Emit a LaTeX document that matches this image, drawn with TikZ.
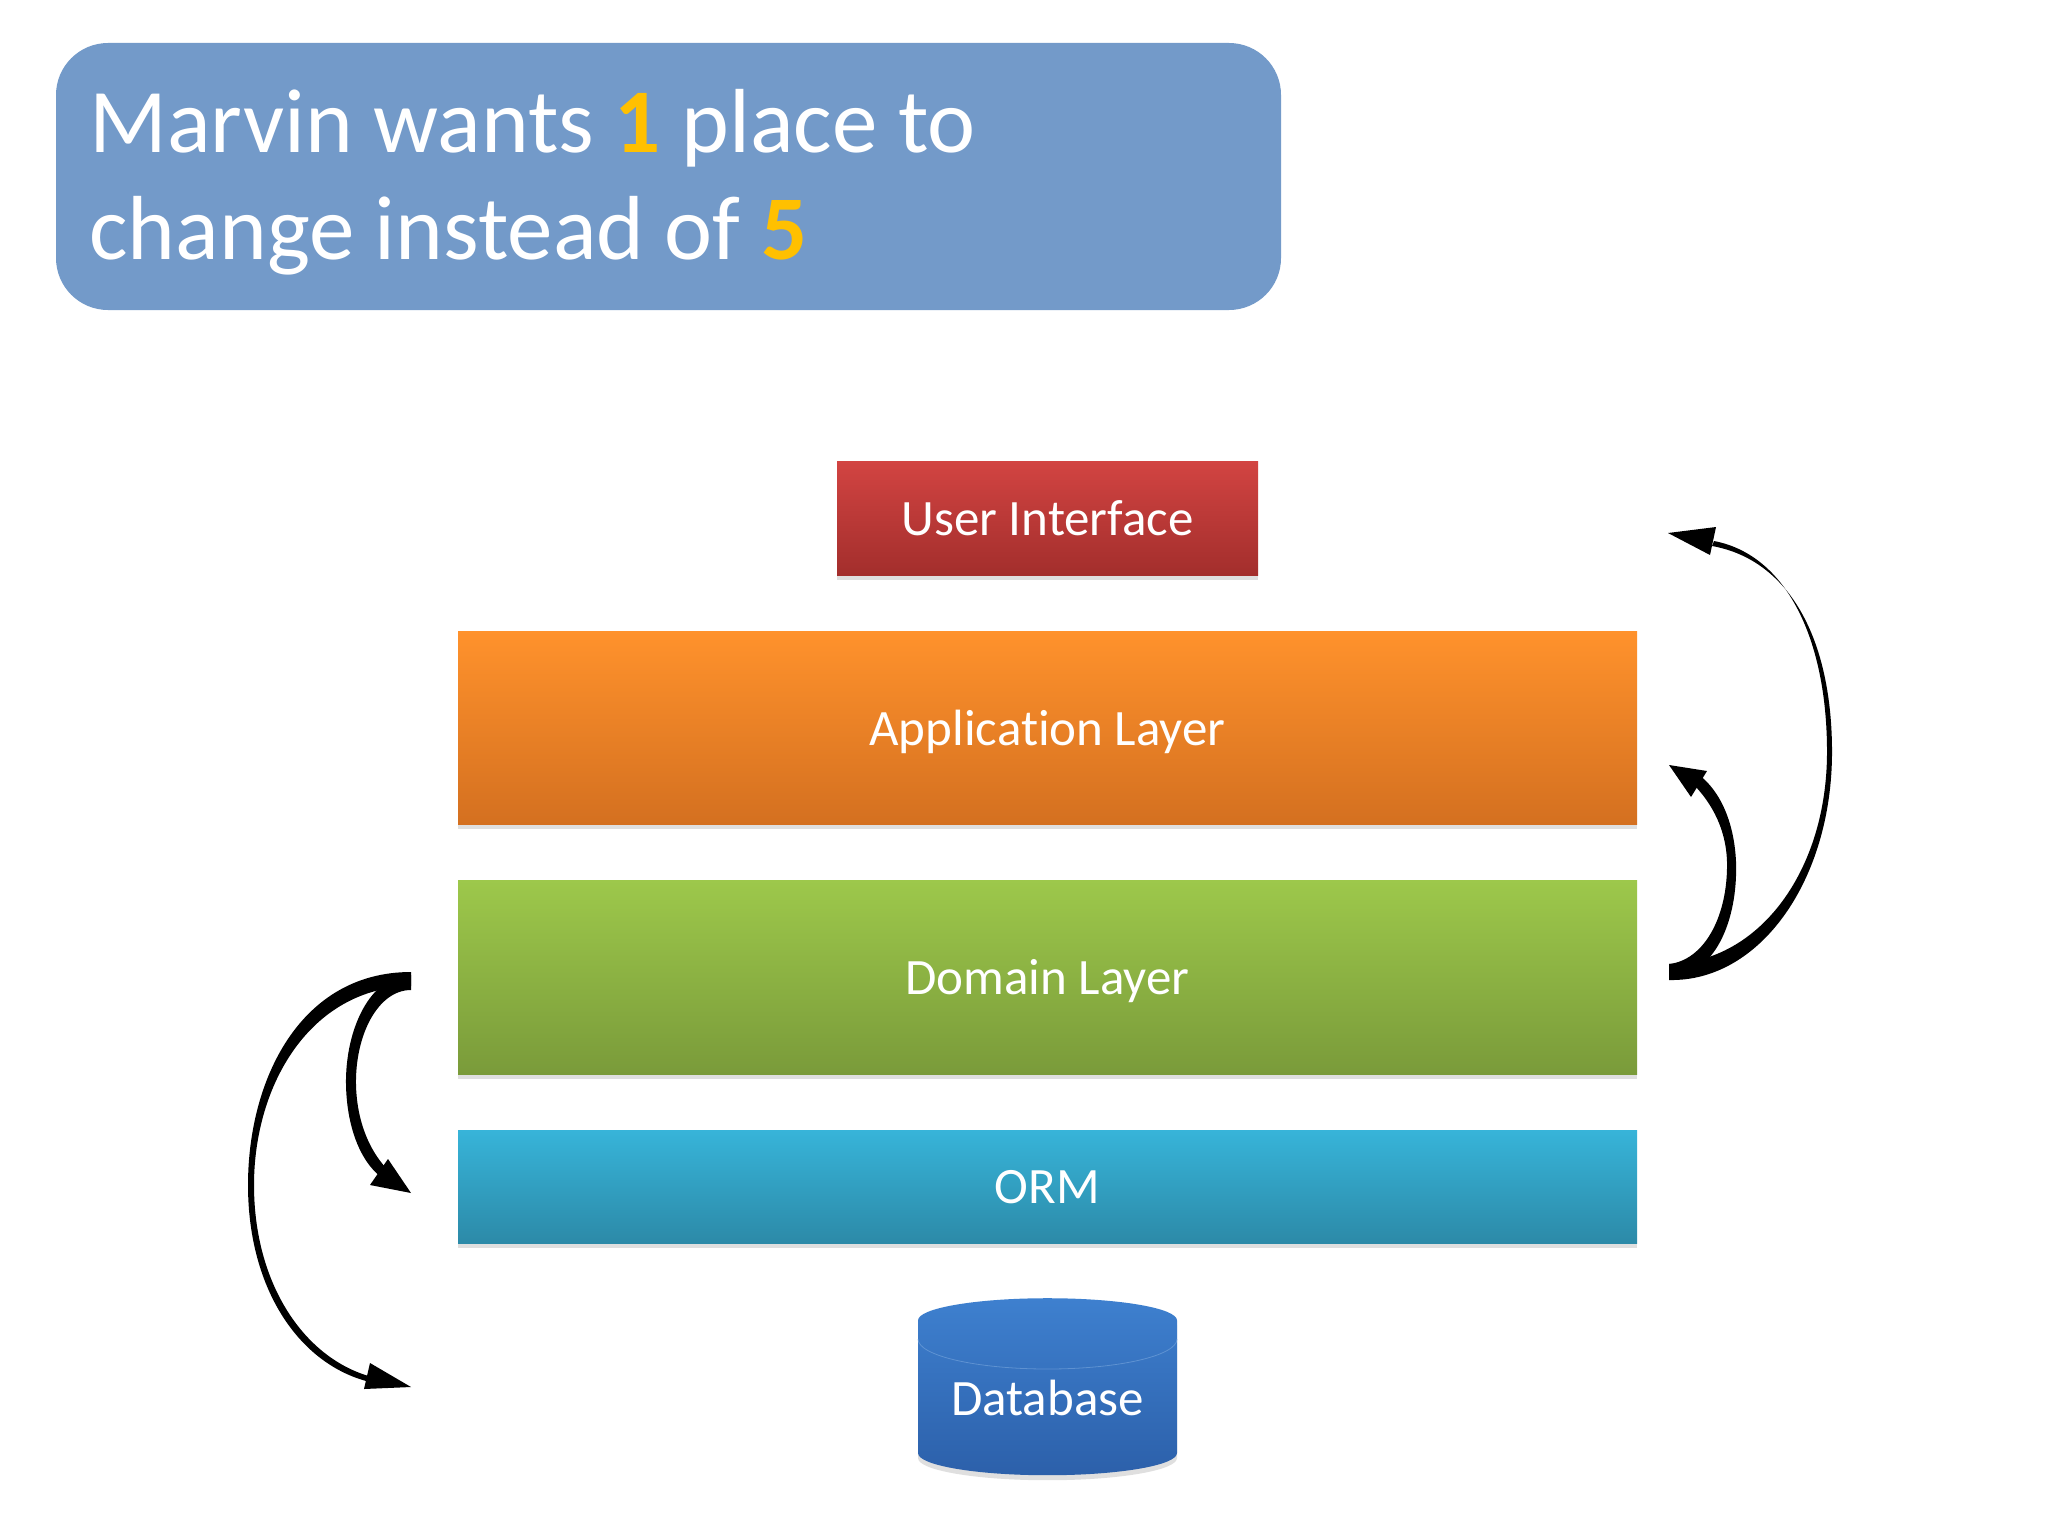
\documentclass[tikz,border=0pt]{standalone}
\usepackage{fontspec}
\setmainfont{Carlito}[Ligatures={NoCommon}]
\usetikzlibrary{shapes.geometric, shadows}

\definecolor{titleblue}{RGB}{115,154,201}
\definecolor{gold}{RGB}{255,192,0}
\definecolor{uitop}{RGB}{210,68,66}
\definecolor{uibot}{RGB}{163,46,44}
\definecolor{apptop}{RGB}{255,146,44}
\definecolor{appbot}{RGB}{212,112,32}
\definecolor{domtop}{RGB}{157,200,75}
\definecolor{dombot}{RGB}{122,155,58}
\definecolor{ormtop}{RGB}{55,180,217}
\definecolor{ormbot}{RGB}{44,138,168}
\definecolor{dbtop}{RGB}{62,128,207}
\definecolor{dbbot}{RGB}{44,96,170}

\begin{document}
\begin{tikzpicture}[x=0.5pt, y=-0.5pt,
	layer/.style={minimum width=589.5pt, inner sep=0pt, text depth=0pt, text=white, font=\fontsize{25.5}{30}\selectfont,
		drop shadow={shadow xshift=0pt, shadow yshift=-2.5pt, opacity=0.25}},
	tip/.style={fill=black}]
	\fill[white] (0, 0) rectangle (2048, 1536);
	
	% title
	\fill[titleblue] (56, 43) [rounded corners=26pt] rectangle (1281, 310);
	\node[anchor=north west, inner sep=0pt, align=left, text=white, font=\fontsize{45.5}{53.5}\selectfont] (title) at (89, 89)
		{Marvin wants \textbf{\textcolor{gold}{1}} place to\\change instead of \textbf{\textcolor{gold}{5}}};
	
	% layers
	\node[layer, minimum width=210.5pt, minimum height=57pt, top color=uitop, bottom color=uibot] (ui) at (1047.5, 518) {User Interface};
	\node[layer, minimum height=96.5pt, top color=apptop, bottom color=appbot] (app) at (1047.5, 727.5) {Application Layer};
	\node[layer, minimum height=97pt, top color=domtop, bottom color=dombot] (dom) at (1047.5, 977) {Domain Layer};
	\node[layer, minimum height=56.5pt, top color=ormtop, bottom color=ormbot] (orm) at (1047.5, 1186.5) {ORM};
	\node[layer, cylinder, shape border rotate=90, aspect=0.23, minimum width=129.5pt, minimum height=88.5pt,
		top color=dbtop, bottom color=dbbot] (db) at (1047.5, 1398) {Database};
	\draw[dbtop!70!white, opacity=0.6] (918, 1339) arc[start angle=180, end angle=360, x radius=64.75pt, y radius=15pt];
	
	% curved arrows, right side
	\coordinate (rtail) at (1669, 971);
	\coordinate (rtop) at (1668, 533);
	\coordinate (rmid) at (1669, 765);
	\fill (1669, 980) .. controls (1760, 982) and (1832, 880) .. (1832, 752)
		.. controls (1832, 640) and (1790, 560) .. (1712, 546)
		-- (1714, 541) .. controls (1787, 555) and (1827, 640) .. (1827, 752)
		.. controls (1827, 870) and (1760, 962) .. (1669, 964) -- cycle;
	\fill[tip] (rtop) -- (1716, 527) -- (1710, 555) -- cycle;
	\fill (1669, 978) .. controls (1715, 976) and (1738, 920) .. (1736, 862)
		.. controls (1734, 815) and (1715, 785) .. (1696, 773)
		-- (1690, 781) .. controls (1708, 798) and (1726, 825) .. (1727, 862)
		.. controls (1728, 915) and (1705, 960) .. (1669, 964) -- cycle;
	\fill[tip] (rmid) -- (1707, 771) -- (1691, 797) -- cycle;
	
	% curved arrows, left side
	\coordinate (ltail) at (411, 981);
	\coordinate (lmid) at (411, 1193);
	\coordinate (lbot) at (411, 1387);
	\fill (411, 972) .. controls (300, 972) and (248, 1080) .. (248, 1185)
		.. controls (248, 1290) and (300, 1365) .. (370, 1382)
		-- (372, 1377) .. controls (305, 1359) and (254, 1285) .. (254, 1185)
		.. controls (254, 1085) and (310, 988) .. (411, 986) -- cycle;
	\fill[tip] (lbot) -- (364, 1389) -- (370, 1363) -- cycle;
	\fill (411, 975) .. controls (370, 975) and (345, 1030) .. (346, 1085)
		.. controls (347, 1130) and (362, 1165) .. (385, 1180)
		-- (390, 1172) .. controls (372, 1155) and (357, 1125) .. (356, 1085)
		.. controls (355, 1035) and (378, 990) .. (411, 990) -- cycle;
	\fill[tip] (lmid) -- (370, 1185) -- (388, 1159) -- cycle;
\end{tikzpicture}
\end{document}
